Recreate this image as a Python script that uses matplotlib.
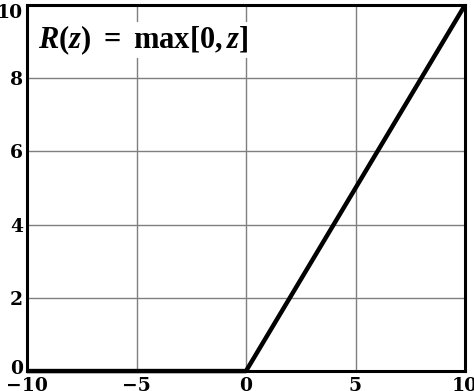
import matplotlib
matplotlib.use('Agg')
import matplotlib.pyplot as plt
from matplotlib.transforms import ScaledTranslation

# data
z_vals = [-10, 0, 10]
r_vals = [0, 0, 10]
x_ticks = [-10, -5, 0, 5, 10]
y_ticks = [0, 2, 4, 6, 8, 10]
x_labels = ['\u221210', '\u22125', '0', '5', '10']
y_labels = ['0', '2', '4', '6', '8', '10']

plt.rcParams['mathtext.fontset'] = 'custom'
plt.rcParams['mathtext.rm'] = 'Liberation Serif:bold'
plt.rcParams['mathtext.bf'] = 'Liberation Serif:bold'
plt.rcParams['mathtext.it'] = 'Liberation Serif:italic:bold'
plt.rcParams['mathtext.bfit'] = 'Liberation Serif:italic:bold'
plt.rcParams['font.family'] = 'DejaVu Serif'

fig = plt.figure(figsize=(4.74, 3.91), dpi=100)
ax = fig.add_axes([0.057, 0.051, 0.924, 0.936])

ax.plot(z_vals, r_vals, color='black', lw=3.2, solid_capstyle='butt', zorder=3, clip_on=False)

ax.set_xlim(-10, 10)
ax.set_ylim(0, 10)
ax.set_xticks(x_ticks)
ax.set_yticks(y_ticks)
ax.set_xticklabels(x_labels, fontsize=13.5, fontweight='bold')
ax.set_yticklabels(y_labels, fontsize=13.5, fontweight='bold')
ax.tick_params(axis='x', length=0, pad=4)
ax.tick_params(axis='y', length=0, pad=3)
ax.grid(True, color='#7f7f7f', lw=1.0)
for s in ax.spines.values():
    s.set_linewidth(2.2)
    s.set_color('black')

# end labels on the y axis sit a little inside, as in the original
yt = ax.yaxis.get_major_ticks()
for tk, dy in ((yt[0], 3), (yt[-1], -4)):
    lab = tk.label1
    lab.set_transform(lab.get_transform() + ScaledTranslation(0, dy / 72, fig.dpi_scale_trans))

ax.text(0.026, 0.905,
        r'$\mathbfit{R}\mathbf{(}\mathbfit{z}\mathbf{)}\ \mathbf{=}\ \mathbf{max}\mathbf{[0,}\mathbfit{z}\mathbf{]}$',
        transform=ax.transAxes, fontsize=22, va='center', ha='left', zorder=4,
        bbox=dict(facecolor='white', edgecolor='none', pad=1))

fig.savefig('out.png', dpi=100)
